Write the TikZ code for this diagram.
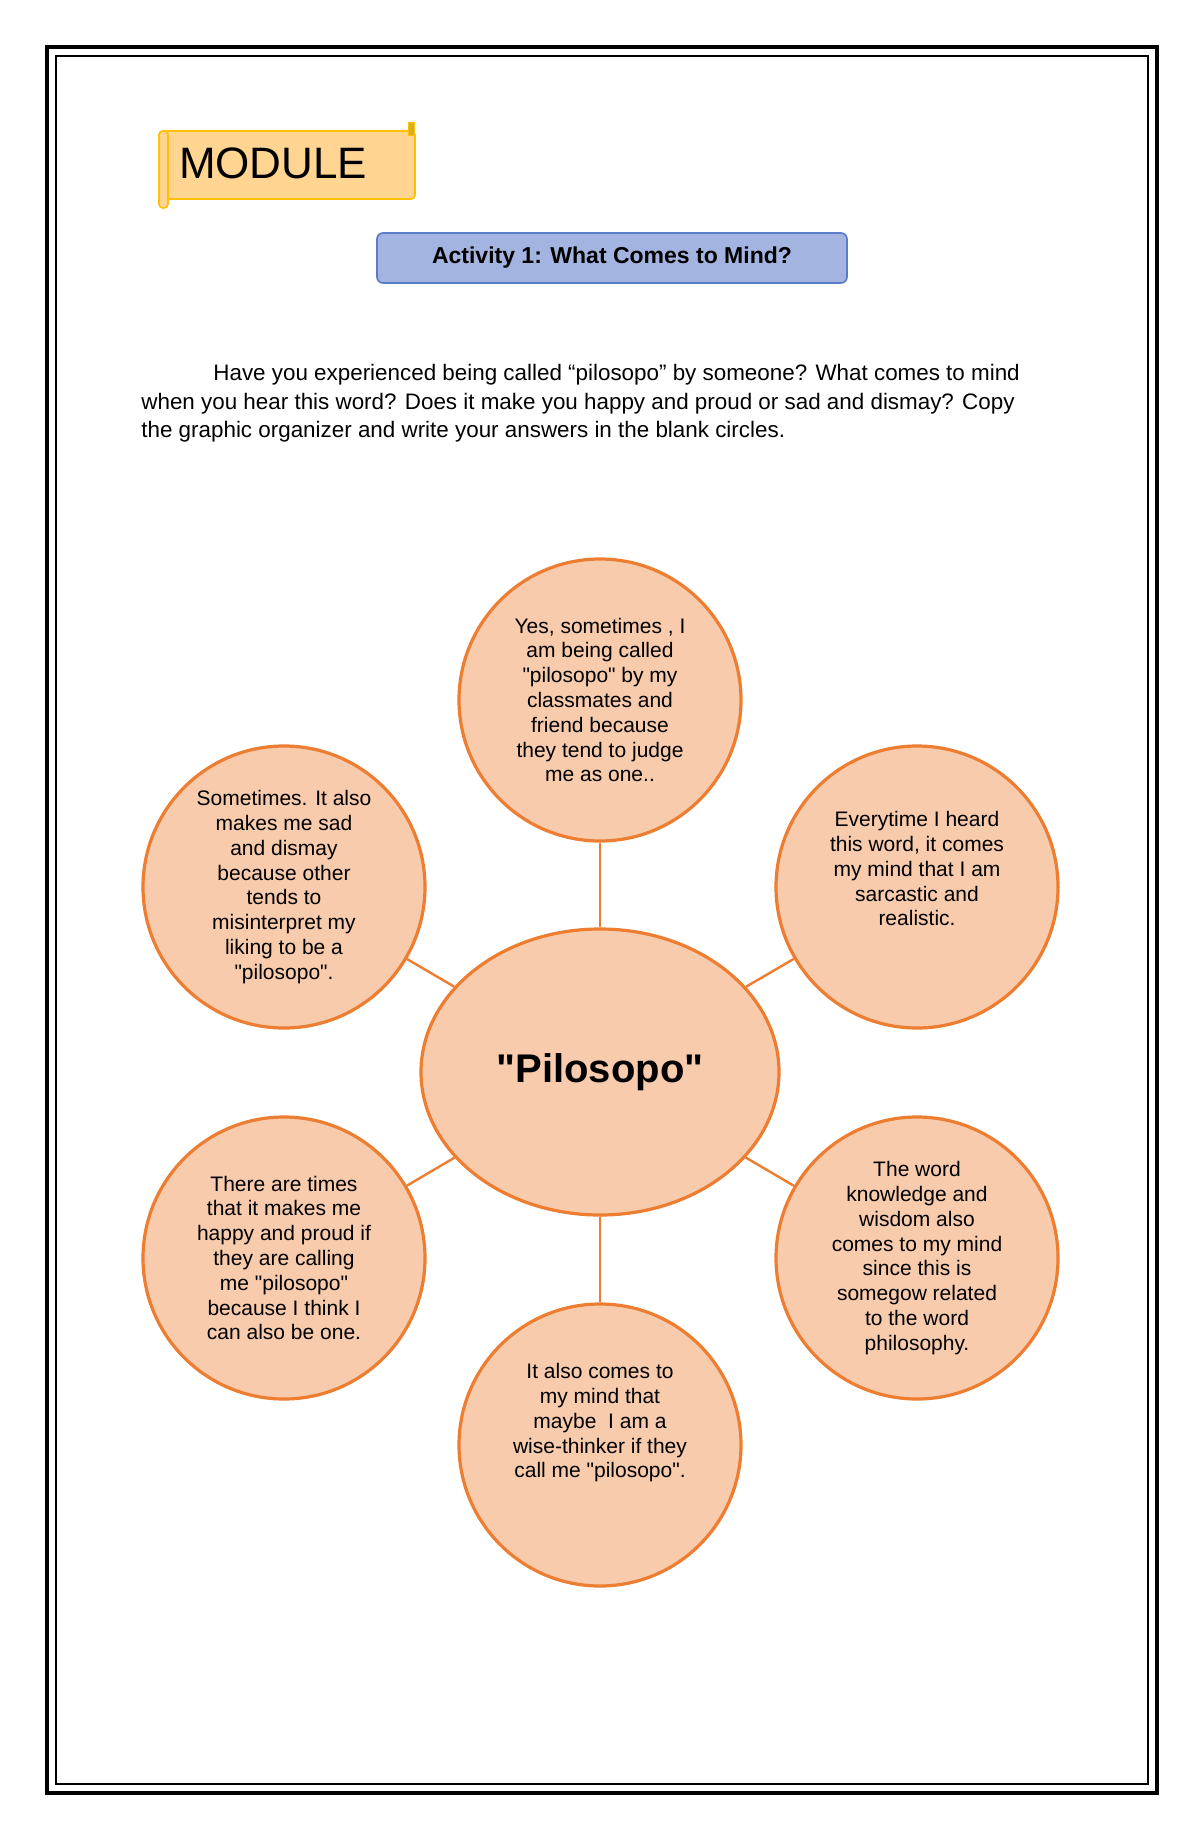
\documentclass[tikz,border=0pt]{standalone}
\usepackage{fontspec}
\setmainfont{Liberation Sans}[Ligatures=TeXOff]
\usetikzlibrary{shapes.geometric}
\definecolor{cfill}{HTML}{F8CBAD}
\definecolor{cdraw}{HTML}{ED7D31}
\definecolor{yfill}{HTML}{FFD591}
\definecolor{ydraw}{HTML}{FFC000}
\definecolor{bfill}{HTML}{A4B4E0}
\definecolor{bdraw}{HTML}{5B7BC8}
\newcommand{\q}{\symbol{34}}
\begin{document}
\begin{tikzpicture}[x=0.5pt,y=-0.5pt,
  bub/.style={circle,fill=cfill,draw=cdraw,line width=1.6pt,minimum size=282*0.5pt,inner sep=0pt,align=center,font=\fontsize{10.5}{12.4}\selectfont},
  link/.style={draw=cdraw,line width=1.2pt}]
\useasboundingbox (0,0) rectangle (1200,1835);
\fill[white] (0,0) rectangle (1200,1835);
\draw[line width=2.2pt] (47,47) rectangle (1157,1793);
\draw[line width=0.9pt] (56,56) rectangle (1148,1784);
% module banner
\draw[fill=yfill,draw=ydraw,line width=0.8pt,rounded corners=2pt] (159,131) rectangle (415,199);
\draw[fill=yfill,draw=ydraw,line width=0.8pt,rounded corners=2pt] (159,131) rectangle (168,208);
\draw[fill=ydraw!70!gray,draw=ydraw] (408,122) rectangle (414,135);
\node[anchor=west,font=\fontsize{22}{24}\selectfont] (mod) at (172,163) {MODULE};
% activity box
\node[fill=bfill,draw=bdraw,line width=0.8pt,rounded corners=3pt,minimum width=470*0.5pt,minimum height=50*0.5pt,font=\bfseries\fontsize{11.5}{13}\selectfont] (act) at (612,258) {Activity 1: What Comes to Mind?};
% paragraph
\node[anchor=north west,align=left,font=\fontsize{11.2}{14.3}\selectfont,inner sep=0pt] (par) at (141,364) {\hspace*{36pt}Have you experienced being called “pilosopo” by someone? What comes to mind\\when you hear this word? Does it make you happy and proud or sad and dismay? Copy\\the graphic organizer and write your answers in the blank circles.};
% center
\node[ellipse,fill=cfill,draw=cdraw,line width=1.6pt,minimum width=358*0.5pt,minimum height=286*0.5pt,font=\bfseries\fontsize{20}{22}\selectfont] (c) at (600,1072) {\q Pilosopo\q};
\node[bub] (t) at (600,700) {Yes, sometimes , I\\am being called\\\q pilosopo\q{} by my\\classmates and\\friend because\\they tend to judge\\me as one..};
\node[bub] (ul) at (284,887) {Sometimes. It also\\makes me sad\\and dismay\\because other\\tends to\\misinterpret my\\liking to be a\\\q pilosopo\q.};
\node[bub] (ur) at (917,887) {Everytime I heard\\this word, it comes\\my mind that I am\\sarcastic and\\realistic.\\[6pt]};
\node[bub] (ll) at (284,1258) {There are times\\that it makes me\\happy and proud if\\they are calling\\me \q pilosopo\q\\because I think I\\can also be one.};
\node[bub] (lr) at (917,1258) {The word\\knowledge and\\wisdom also\\comes to my mind\\since this is\\somegow related\\to the word\\philosophy.};
\node[bub] (b) at (600,1445) {It also comes to\\my mind that\\maybe\ \ I am a\\wise-thinker if they\\call me \q pilosopo\q.\\[12pt]};
\foreach \n in {t,ul,ur,ll,lr,b} \draw[link] (c) -- (\n);
\end{tikzpicture}
\end{document}
